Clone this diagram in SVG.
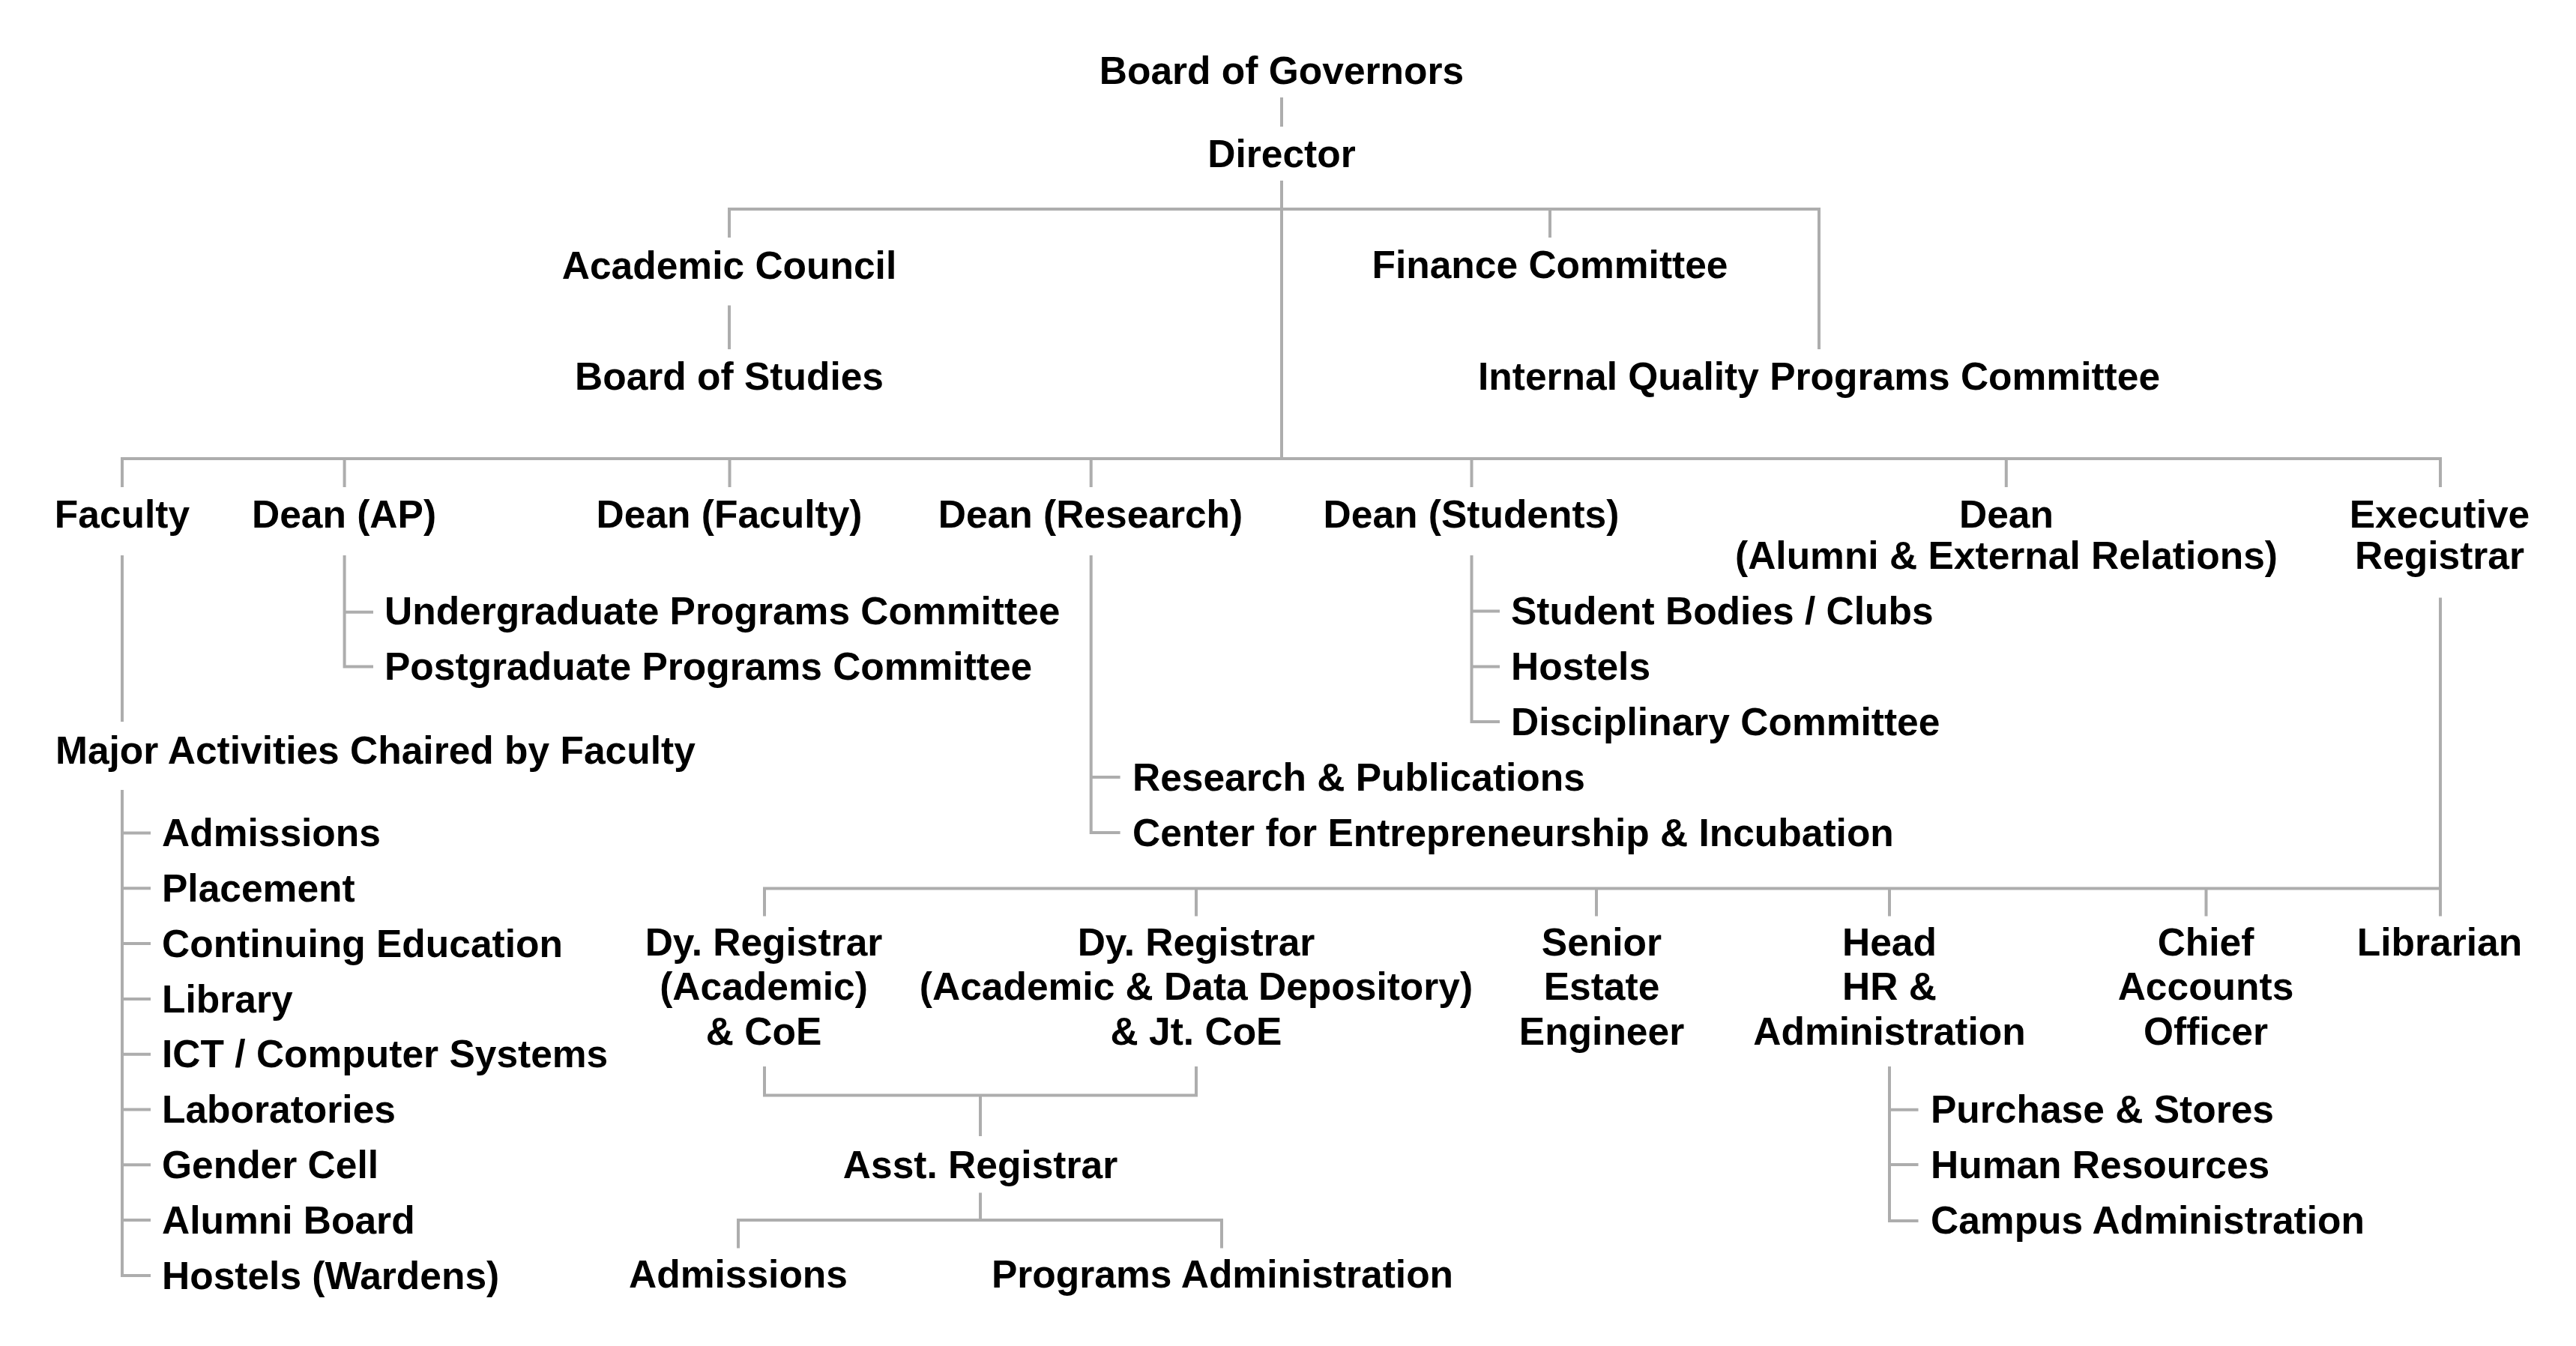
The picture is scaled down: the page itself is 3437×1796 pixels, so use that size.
<svg xmlns="http://www.w3.org/2000/svg" width="3437" height="1796" viewBox="0 0 3437 1796">
<style>
.t{font-family:"Liberation Sans",Arial,Helvetica,sans-serif;font-weight:bold;font-size:51.5px;fill:#000}
.c{text-anchor:middle}
.ln{fill:none;stroke:#adadad;stroke-width:4}
</style>
<rect x="0" y="0" width="3437" height="1796" fill="#ffffff"/>
<g id="connectors" class="ln">
<path d="M1710 130V169"/>
<path d="M1710 241V612"/>
<path d="M973 317V279H2427V466"/>
<path d="M2068 279V317"/>
<path d="M973 407.5V466"/>
<path d="M163 650V612H3256V650"/>
<path d="M459.6 612V650M973.5 612V650M1455.7 612V650M1963.5 612V650M2676.8 612V650"/>
<path d="M163 741V963"/>
<path d="M163 1054V1702H201"/>
<path d="M163 1111.5H201M163 1185.3H201M163 1259H201M163 1333H201M163 1406.7H201M163 1480.5H201M163 1554.3H201M163 1628H201"/>
<path d="M459.6 741V889.6H498M459.6 816.7H498"/>
<path d="M1455.7 741V1111H1494.6M1455.7 1037H1494.6"/>
<path d="M1963.5 741V963H2001M1963.5 815.6H2001M1963.5 889.6H2001"/>
<path d="M3256 797.5V1222.6"/>
<path d="M1020 1222.6V1185.5H3256"/>
<path d="M1596 1185.5V1222.6M2130 1185.5V1222.6M2521 1185.5V1222.6M2943.5 1185.5V1222.6"/>
<path d="M1020 1423V1461.5H1596V1423M1308 1461.5V1516"/>
<path d="M1308 1591.5V1628M985 1665.6V1628H1630V1665.6"/>
<path d="M2521 1423V1629H2559.5M2521 1480.7H2559.5M2521 1554H2559.5"/>
</g>
<g id="board-of-governors"><text class="t c" x="1710" y="112">Board of Governors</text></g>
<g id="director"><text class="t c" x="1710" y="223">Director</text></g>
<g id="academic-council"><text class="t c" x="973" y="372">Academic Council</text></g>
<g id="finance-committee"><text class="t c" x="2068" y="371">Finance Committee</text></g>
<g id="board-of-studies"><text class="t c" x="973" y="520">Board of Studies</text></g>
<g id="iqpc"><text class="t c" x="2427" y="520">Internal Quality Programs Committee</text></g>
<g id="faculty"><text class="t c" x="163" y="704">Faculty</text></g>
<g id="dean-ap"><text class="t c" x="459" y="704">Dean (AP)</text></g>
<g id="dean-faculty"><text class="t c" x="973" y="704">Dean (Faculty)</text></g>
<g id="dean-research"><text class="t c" x="1455" y="704">Dean (Research)</text></g>
<g id="dean-students"><text class="t c" x="1963" y="704">Dean (Students)</text></g>
<g id="dean-alumni"><text class="t c" x="2677" y="704">Dean</text><text class="t c" x="2677" y="759">(Alumni &amp; External Relations)</text></g>
<g id="executive-registrar"><text class="t c" x="3255" y="704">Executive</text><text class="t c" x="3255" y="759">Registrar</text></g>
<g id="ugpc"><text class="t" x="513" y="833">Undergraduate Programs Committee</text></g>
<g id="pgpc"><text class="t" x="513" y="907">Postgraduate Programs Committee</text></g>
<g id="student-bodies"><text class="t" x="2016" y="833">Student Bodies / Clubs</text></g>
<g id="hostels"><text class="t" x="2016" y="907">Hostels</text></g>
<g id="disciplinary"><text class="t" x="2016" y="981">Disciplinary Committee</text></g>
<g id="research-pub"><text class="t" x="1511" y="1055">Research &amp; Publications</text></g>
<g id="cei"><text class="t" x="1511" y="1129">Center for Entrepreneurship &amp; Incubation</text></g>
<g id="major-activities"><text class="t" x="74" y="1019">Major Activities Chaired by Faculty</text></g>
<g id="fac-admissions"><text class="t" x="216" y="1129">Admissions</text></g>
<g id="fac-placement"><text class="t" x="216" y="1203">Placement</text></g>
<g id="fac-continuing"><text class="t" x="216" y="1277">Continuing Education</text></g>
<g id="fac-library"><text class="t" x="216" y="1350.5">Library</text></g>
<g id="fac-ict"><text class="t" x="216" y="1424">ICT / Computer Systems</text></g>
<g id="fac-labs"><text class="t" x="216" y="1498">Laboratories</text></g>
<g id="fac-gender"><text class="t" x="216" y="1572">Gender Cell</text></g>
<g id="fac-alumni"><text class="t" x="216" y="1646">Alumni Board</text></g>
<g id="fac-hostels"><text class="t" x="216" y="1719.5">Hostels (Wardens)</text></g>
<g id="dy-reg-academic"><text class="t c" x="1019" y="1274.7">Dy. Registrar</text><text class="t c" x="1019" y="1334">(Academic)</text><text class="t c" x="1019" y="1393.5">&amp; CoE</text></g>
<g id="dy-reg-add"><text class="t c" x="1596" y="1274.7">Dy. Registrar</text><text class="t c" x="1596" y="1334">(Academic &amp; Data Depository)</text><text class="t c" x="1596" y="1393.5">&amp; Jt. CoE</text></g>
<g id="senior-estate"><text class="t c" x="2137" y="1274.7">Senior</text><text class="t c" x="2137" y="1334">Estate</text><text class="t c" x="2137" y="1393.5">Engineer</text></g>
<g id="head-hr"><text class="t c" x="2521" y="1274.7">Head</text><text class="t c" x="2521" y="1334">HR &amp;</text><text class="t c" x="2521" y="1393.5">Administration</text></g>
<g id="chief-accounts"><text class="t c" x="2943" y="1274.7">Chief</text><text class="t c" x="2943" y="1334">Accounts</text><text class="t c" x="2943" y="1393.5">Officer</text></g>
<g id="librarian"><text class="t c" x="3255" y="1274.7">Librarian</text></g>
<g id="asst-registrar"><text class="t c" x="1308" y="1572">Asst. Registrar</text></g>
<g id="ar-admissions"><text class="t c" x="985" y="1717.7">Admissions</text></g>
<g id="ar-programs"><text class="t c" x="1631" y="1717.7">Programs Administration</text></g>
<g id="purchase"><text class="t" x="2576" y="1498">Purchase &amp; Stores</text></g>
<g id="human-resources"><text class="t" x="2576" y="1572">Human Resources</text></g>
<g id="campus-admin"><text class="t" x="2576" y="1646">Campus Administration</text></g>
</svg>
